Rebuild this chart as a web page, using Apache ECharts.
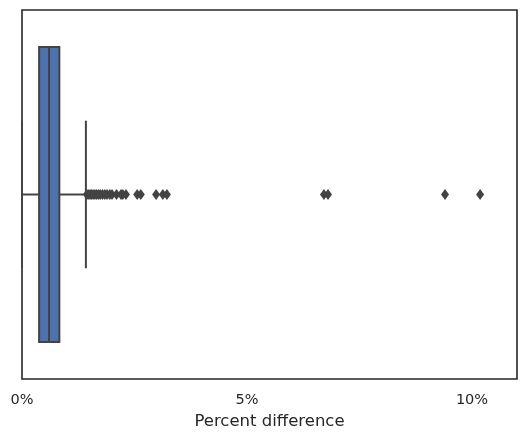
<!DOCTYPE html>
<html>
<head>
<meta charset="utf-8">
<script src="https://cdn.jsdelivr.net/npm/echarts@6/dist/echarts.min.js"></script>
<style>
html,body{margin:0;padding:0;background:#fff;}
#main{width:528px;height:441px;}
</style>
</head>
<body>
<div id="main"></div>
<script>
// box stats (percent): min, q1, median, q3, max
var categories = ['diff'];
var boxStats = [0.0, 0.38, 0.6, 0.83, 1.42];
// outliers (percent)
var outliers = [1.44, 1.47, 1.51, 1.54, 1.58, 1.62, 1.66, 1.7, 1.74, 1.79, 1.84, 1.89, 1.95, 2.0,
  2.1, 2.2, 2.24, 2.31, 2.56, 2.64, 2.98, 3.13, 3.22, 6.71, 6.8, 9.4, 10.18];
var xTicks = [0, 5, 10];

var myChart = echarts.init(document.getElementById('main'));

var lineColor = '#434343';

option = {
    backgroundColor: '#ffffff',
    animation: false,
    grid: {
        left: 22, right: 11, top: 10, bottom: 62,
        show: true,
        borderColor: '#262626',
        borderWidth: 1.6,
        backgroundColor: '#ffffff'
    },
    xAxis: {
        type: 'value',
        min: 0,
        max: 11,
        interval: 5,
        name: 'Percent difference',
        nameLocation: 'middle',
        nameGap: 34,
        nameTextStyle: { fontFamily: 'DejaVu Sans', fontSize: 16.5, color: '#262626' },
        axisLine: { show: false },
        axisTick: { show: false },
        splitLine: { show: false },
        axisLabel: {
            fontFamily: 'DejaVu Sans', fontSize: 14.5, color: '#262626', margin: 14,
            formatter: function (v) { return xTicks.indexOf(v) >= 0 ? v + '%' : ''; }
        }
    },
    yAxis: {
        type: 'category',
        data: categories,
        axisLine: { show: false },
        axisTick: { show: false },
        axisLabel: { show: false },
        splitLine: { show: false }
    },
    series: [
        {
            type: 'custom',
            data: [[0].concat(boxStats)],
            encode: { x: [1, 2, 3, 4, 5], y: 0 },
            renderItem: function (params, api) {
                var cat = api.value(0);
                var band = api.size([0, 1])[1];
                var hb = band * 0.4, hc = band * 0.2;
                var pMin = api.coord([api.value(1), cat]);
                var pQ1 = api.coord([api.value(2), cat]);
                var pMed = api.coord([api.value(3), cat]);
                var pQ3 = api.coord([api.value(4), cat]);
                var pMax = api.coord([api.value(5), cat]);
                var y = pMed[1];
                var ls = { stroke: lineColor, lineWidth: 2 };
                return {
                    type: 'group',
                    children: [
                        { type: 'line', shape: { x1: pMin[0], y1: y, x2: pQ1[0], y2: y }, style: ls },
                        { type: 'line', shape: { x1: pQ3[0], y1: y, x2: pMax[0], y2: y }, style: ls },
                        { type: 'line', shape: { x1: pMin[0], y1: y - hc, x2: pMin[0], y2: y + hc }, style: ls },
                        { type: 'line', shape: { x1: pMax[0], y1: y - hc, x2: pMax[0], y2: y + hc }, style: ls },
                        { type: 'rect', shape: { x: pQ1[0], y: y - hb, width: pQ3[0] - pQ1[0], height: hb * 2 },
                          style: { fill: '#4c72b0', stroke: lineColor, lineWidth: 2 } },
                        { type: 'line', shape: { x1: pMed[0], y1: y - hb, x2: pMed[0], y2: y + hb }, style: ls }
                    ]
                };
            }
        },
        {
            type: 'scatter',
            symbol: 'diamond',
            symbolSize: [8, 11],
            itemStyle: { color: lineColor, opacity: 1 },
            data: outliers.map(function (v) { return [v, 0]; })
        }
    ]
};

myChart.setOption(option);
</script>
</body>
</html>
